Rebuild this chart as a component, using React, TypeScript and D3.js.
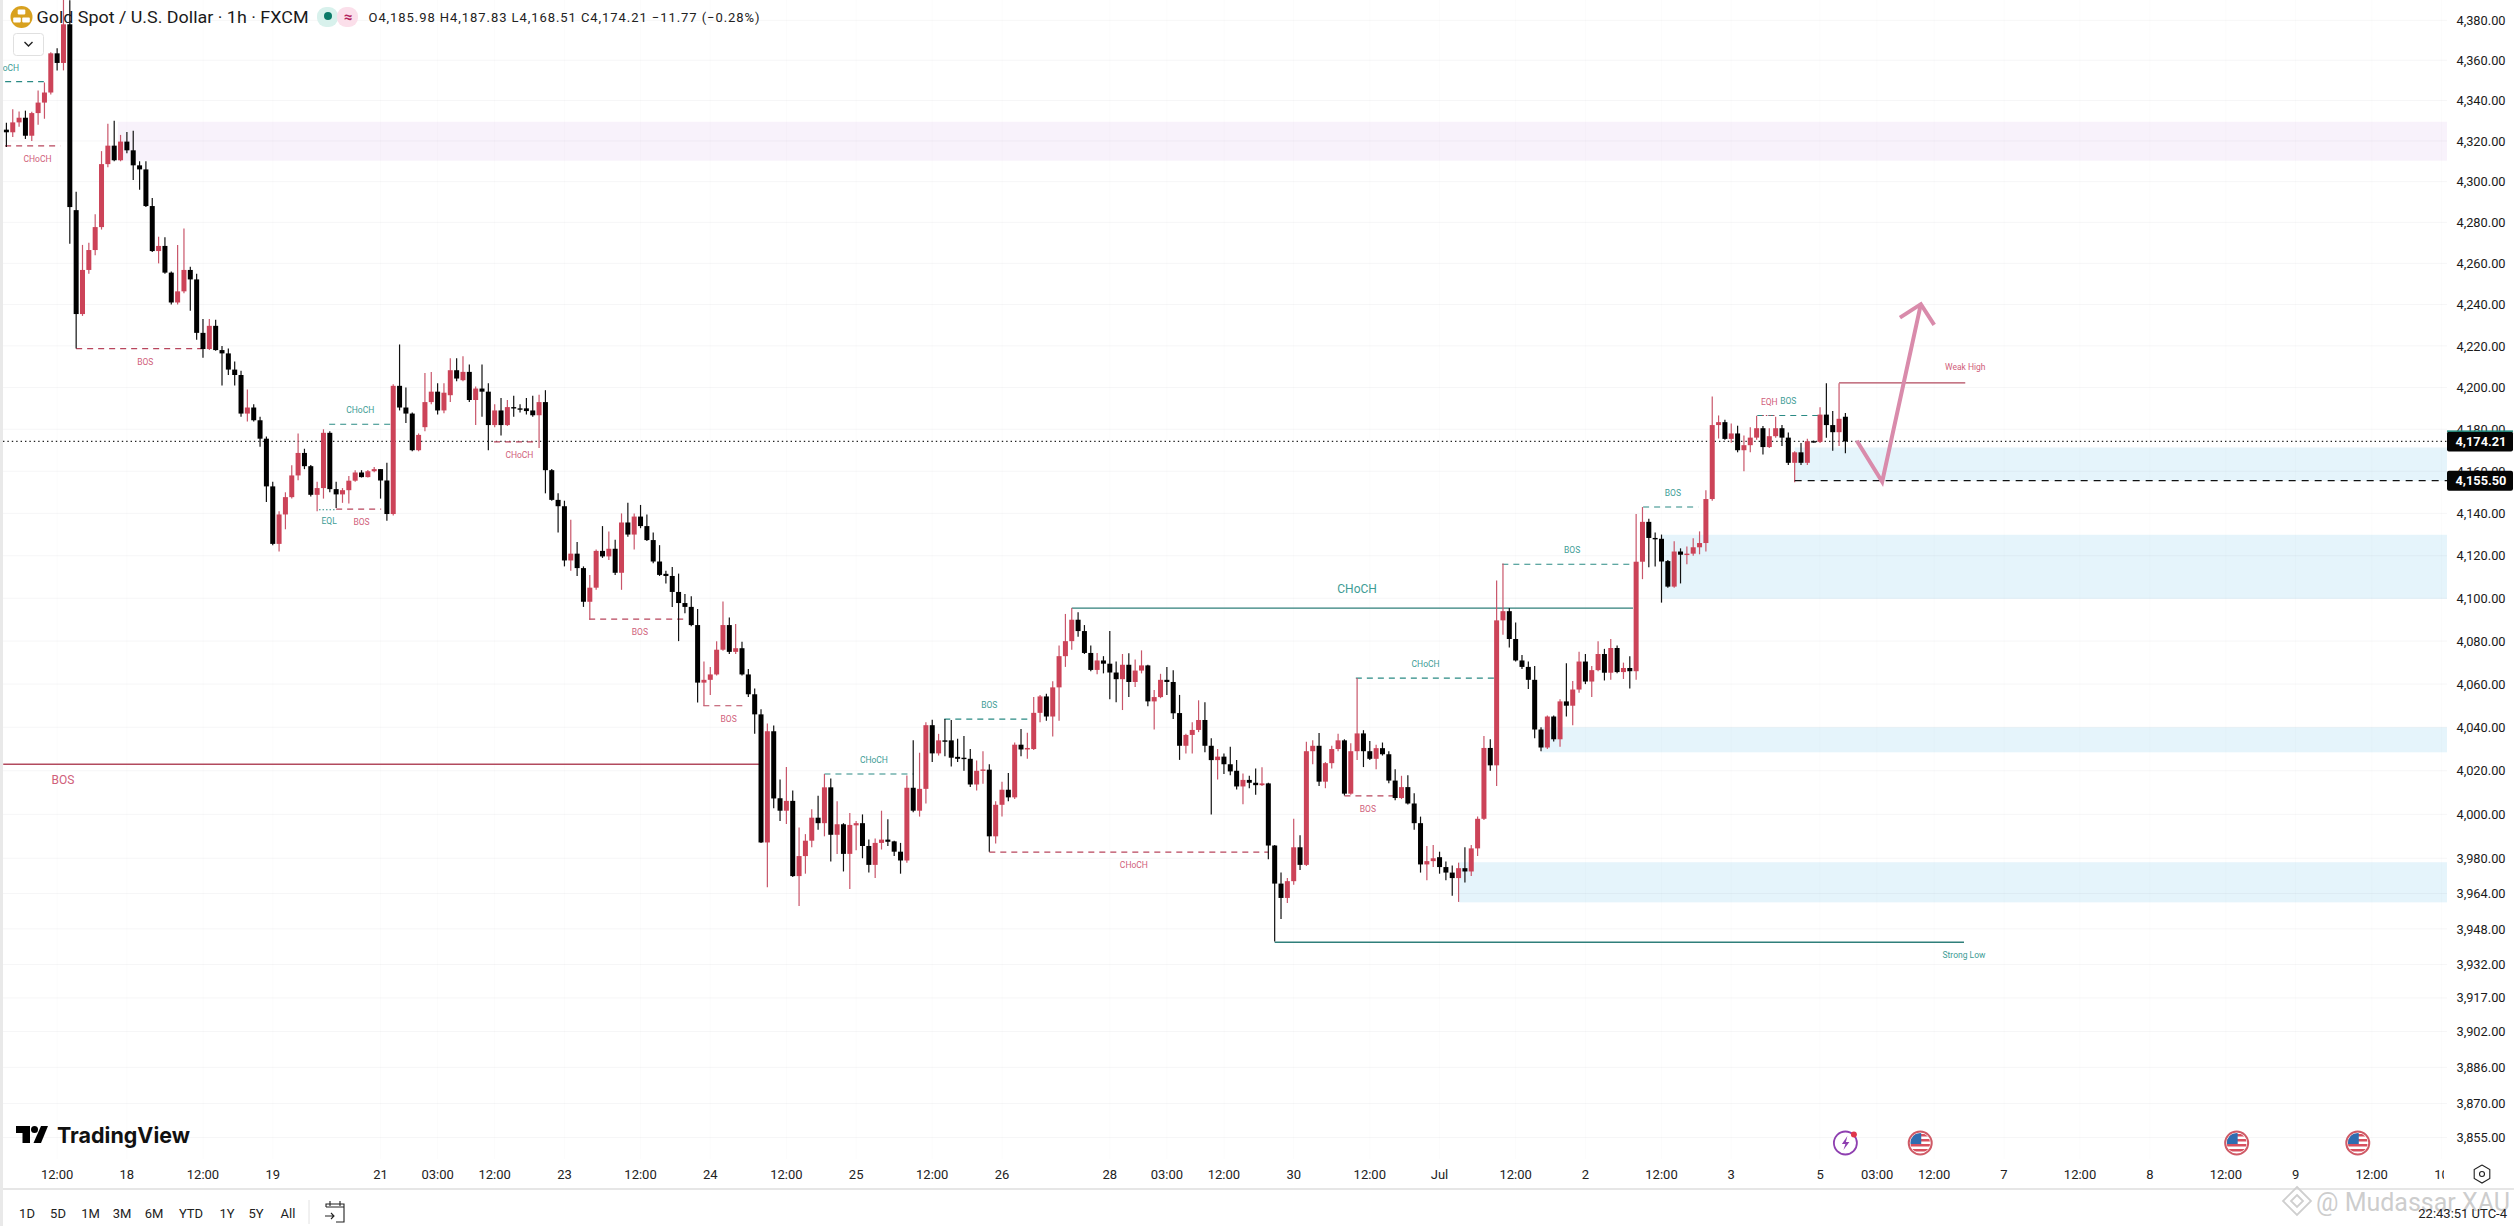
import { useEffect, useRef } from 'react';
import * as d3 from 'd3';

const WIDTH = 2514;
const HEIGHT = 1226;

// OHLC, one hourly bar per entry
const barOpen = [
  4325.6, 4324.3, 4329.2, 4331.5, 4322.6, 4333.8, 4339, 4344, 4363.5, 4358.7,
  4378, 4286, 4235.4, 4256.8, 4266.5, 4277.7, 4308.6, 4317.7, 4310.5, 4319.7,
  4315.4, 4308, 4306, 4288, 4266, 4268.5, 4255.5, 4241, 4246.4, 4256.8,
  4252.2, 4226.3, 4218.5, 4229.7, 4218, 4216.4, 4208.6, 4206, 4187.5, 4190.4,
  4184.3, 4175.5, 4152.8, 4125.6, 4139.5, 4147.7, 4158, 4168.7, 4162.4, 4148.8,
  4152, 4178.3, 4151.5, 4149, 4151, 4155.5, 4159.4, 4157.2, 4160, 4161,
  4155.6, 4139.7, 4200.8, 4190.4, 4187.5, 4170, 4181, 4193, 4198, 4189,
  4196.3, 4208.3, 4203.5, 4207.5, 4194, 4199.5, 4198, 4182, 4189, 4182,
  4190.6, 4190, 4190, 4189, 4186.7, 4193, 4160.5, 4146.4, 4143.4, 4117.8,
  4121, 4114.2, 4098.4, 4105, 4122.3, 4119.7, 4123.3, 4112, 4135.7, 4130,
  4138.5, 4134, 4127.4, 4117.3, 4111.5, 4110.5, 4103, 4097.8, 4096, 4087.5,
  4060.7, 4062, 4064.5, 4076, 4087.5, 4075, 4076.7, 4064.5, 4055.3, 4046,
  3987.2, 4038.2, 4007.4, 4001.7, 4006.2, 3971.9, 3981, 3988, 3998.5, 3996,
  4012.4, 3990.7, 3995.5, 3982, 3995, 3996, 3985.6, 3977, 3987, 3988.5,
  3987.7, 3983, 3979, 4012.2, 4001.7, 4011.7, 4041, 4028, 4034, 4034,
  4026.4, 4026, 4025.5, 4013.7, 4020, 4020.5, 3990, 4004.4, 4011.3, 4007.8,
  4032, 4029.8, 4030, 4046.7, 4054.3, 4045, 4058.5, 4073, 4080, 4090,
  4084.7, 4074.5, 4066.6, 4071, 4069.5, 4065.4, 4062.3, 4069, 4061, 4066.3,
  4068.7, 4052, 4054, 4062, 4061, 4046.6, 4031.5, 4036.5, 4038.8, 4043.4,
  4031.5, 4024.9, 4026.5, 4023, 4020, 4012.8, 4015.8, 4014.5, 4013.4, 4014.2,
  3985.8, 3968.5, 3962, 3969.6, 3985, 3977, 4029, 4031.5, 4015, 4023.5,
  4030, 4034, 4009.5, 4029, 4037.2, 4029, 4025.5, 4030.4, 4027.6, 4015.5,
  4007.5, 4012.5, 4005, 3996, 3977.2, 3978.7, 3980.5, 3976, 3973.5, 3971,
  3975.5, 3974, 3984.5, 3998, 4030.5, 4022.5, 4089.7, 4094, 4081, 4071,
  4068, 4062, 4039, 4030.7, 4045, 4034.5, 4052, 4050, 4057.5, 4070.5,
  4061.2, 4066.5, 4074, 4065.3, 4076.8, 4065.6, 4067.5, 4066, 4117.2, 4136,
  4128.4, 4128, 4117.5, 4105.5, 4122, 4120.5, 4121, 4124, 4126, 4146.8,
  4182, 4183.4, 4175.4, 4178, 4170, 4172.4, 4176, 4180.5, 4171.5, 4176.7,
  4180.5, 4176, 4164, 4169, 4164, 4174.3, 4174, 4187, 4182, 4178.6,
  4185.98,
];
const barClose = [
  4324.3, 4329.2, 4331.5, 4322.6, 4333.8, 4339, 4344, 4363.5, 4358.7, 4378,
  4287.5, 4235.4, 4256.8, 4266.5, 4277.7, 4308.6, 4317.7, 4310.5, 4319.7, 4315.4,
  4308, 4306, 4288, 4266, 4268.5, 4255.5, 4241, 4246.4, 4256.8, 4252.2,
  4226.3, 4218.5, 4229.7, 4218, 4216.4, 4208.6, 4206, 4187.5, 4190.4, 4184.3,
  4175.5, 4152.8, 4125.6, 4139.5, 4147.7, 4158, 4168.7, 4162.4, 4148.8, 4152,
  4178.3, 4151.5, 4149, 4151, 4155.5, 4159.4, 4157.2, 4160, 4161, 4155.6,
  4139.7, 4200.8, 4190.4, 4187.5, 4170, 4177.3, 4193, 4198, 4189, 4197.5,
  4208.3, 4204.3, 4207.5, 4194, 4199.5, 4198, 4182, 4189, 4182, 4190.6,
  4190, 4189.7, 4188.7, 4186.7, 4193, 4160.5, 4146.4, 4143.4, 4117.8, 4121,
  4114.2, 4098.4, 4105, 4122.3, 4119.7, 4123.3, 4112, 4135.7, 4130, 4138.5,
  4134, 4127.4, 4117.3, 4111, 4110.5, 4103, 4097.8, 4096, 4087.5, 4060.7,
  4062, 4064.5, 4076, 4087.5, 4075, 4076.7, 4064.5, 4055.3, 4046, 3987.2,
  4038.2, 4007.3, 4001.7, 4006.2, 3971.9, 3981, 3988, 3998.5, 3996, 4012.4,
  3990.7, 3995.5, 3982, 3995.2, 3996, 3985.6, 3977, 3987, 3988.5, 3987.5,
  3983, 3979, 4012.2, 4001.7, 4011.7, 4041, 4028, 4034, 4033.8, 4026,
  4025.5, 4025.7, 4013.7, 4020, 4020.6, 3990, 4004.4, 4011.3, 4007.8, 4032,
  4029.8, 4030.5, 4046.7, 4054.3, 4045, 4058.5, 4073, 4080, 4090, 4084.7,
  4074.5, 4066.6, 4071, 4069.5, 4065.4, 4062.3, 4069, 4061, 4066.3, 4068.7,
  4052, 4054, 4062, 4061, 4046.5, 4031.5, 4036.5, 4038.8, 4043.4, 4031.5,
  4024.9, 4026.5, 4023, 4019.7, 4012.8, 4015.8, 4014.5, 4013.4, 4014.2, 3985.8,
  3968.5, 3962, 3969.6, 3985, 3977, 4029, 4031.5, 4015, 4023.5, 4030,
  4034, 4009.5, 4029, 4037.2, 4029, 4025.5, 4030.4, 4027.6, 4015.5, 4007.5,
  4012.5, 4005, 3996, 3977.2, 3978.7, 3980, 3976, 3973.5, 3971, 3975.5,
  3974, 3984.5, 3998, 4030.5, 4022.5, 4089.7, 4094, 4081, 4071, 4068,
  4062, 4039, 4030.7, 4045, 4034.5, 4052, 4050, 4057.5, 4070.5, 4061.2,
  4066.5, 4074, 4065.3, 4076.8, 4065.6, 4067.5, 4066, 4117.2, 4136, 4128.4,
  4128.2, 4117.3, 4105.5, 4122, 4120.5, 4121, 4124, 4126, 4146.8, 4182,
  4183.4, 4175.4, 4178, 4170, 4172.4, 4176, 4180.5, 4171.5, 4176.7, 4180.5,
  4176, 4164, 4169, 4164, 4174.3, 4174, 4187, 4182, 4178.6, 4185,
  4174.21,
];
const barHigh = [
  4329, 4335.7, 4334.6, 4335, 4334.5, 4345, 4349, 4364, 4366, 4395,
  4390, 4295, 4269, 4270, 4284, 4315, 4328.5, 4330, 4323, 4324.5,
  4325, 4310, 4310, 4292, 4273, 4272.7, 4256, 4269, 4277, 4258.4,
  4255, 4233, 4233, 4232.6, 4220, 4218.7, 4212.5, 4208, 4199, 4192,
  4186, 4176.5, 4155, 4141, 4150, 4162.8, 4178, 4170.7, 4163, 4155,
  4180, 4179, 4155, 4152, 4157.7, 4160.5, 4160.5, 4160.6, 4162, 4161,
  4164, 4201.5, 4220.7, 4200, 4188, 4178, 4207, 4207.5, 4202, 4202,
  4214, 4214, 4215, 4211, 4200.5, 4211, 4202, 4192, 4195, 4194,
  4196, 4192, 4195, 4196, 4196.5, 4198.7, 4161, 4149.5, 4146, 4137,
  4126.5, 4115, 4111, 4123, 4134, 4131.5, 4127.5, 4140, 4145, 4140,
  4144, 4139.5, 4131, 4125, 4113, 4114.7, 4111.6, 4102, 4101, 4095,
  4070.5, 4068, 4080, 4098.5, 4091, 4088, 4079.7, 4067, 4058, 4048.4,
  4041.8, 4040.8, 4016, 4021.7, 4011, 3994, 3991, 4002.4, 4008.5, 4018.5,
  4016.5, 4006, 3996, 4000.6, 3997, 4000, 3988.5, 3989, 4001.7, 3997.8,
  3988, 3987, 4017.8, 4034, 4028.3, 4042.4, 4043.5, 4037, 4043.8, 4043.4,
  4034.7, 4036, 4030, 4024.7, 4029, 4023, 4006, 4015, 4019, 4033,
  4039.2, 4037.5, 4054, 4055, 4055.5, 4061.3, 4078, 4092.7, 4095.5, 4093.5,
  4087.5, 4078, 4074.5, 4073, 4084.7, 4070.5, 4074, 4074.4, 4071.4, 4075.7,
  4069, 4057.3, 4064.8, 4068, 4066.5, 4055, 4037, 4042.3, 4052.5, 4051.6,
  4035, 4030, 4028, 4031, 4025, 4018.7, 4017.7, 4021, 4021.6, 4014.5,
  3986, 3973.5, 3971, 3998, 3990.5, 4033.4, 4034, 4037.4, 4024, 4031.5,
  4037, 4034.5, 4032.7, 4062.8, 4038.7, 4033.7, 4032, 4033, 4029, 4020.7,
  4017.7, 4018, 4009.7, 3999, 3985.6, 3986, 3983, 3978.5, 3976.7, 3978,
  3985, 3986, 3999, 4036, 4034.5, 4108.4, 4116.4, 4095.5, 4088.7, 4073.5,
  4070.5, 4068.4, 4040, 4045.5, 4045.5, 4053, 4069.7, 4061.5, 4075, 4074,
  4068.4, 4080, 4076.4, 4081, 4078, 4070, 4073, 4139.7, 4143, 4137.5,
  4131, 4130, 4118, 4126.8, 4123.5, 4124.4, 4128.2, 4131.5, 4151, 4195.7,
  4186.6, 4184.5, 4182.7, 4181.7, 4177, 4181, 4186.5, 4181.6, 4180.5, 4186,
  4182, 4178.5, 4169.5, 4173.5, 4175.5, 4174.6, 4190.5, 4202, 4188.7, 4202,
  4187.83,
];
const barLow = [
  4317, 4322, 4327, 4321, 4320, 4328, 4331, 4343, 4355, 4355,
  4269.6, 4218.7, 4234.5, 4255, 4264, 4276.5, 4307, 4310, 4310, 4314,
  4300.8, 4296, 4287.5, 4265.5, 4260, 4255, 4240, 4240, 4245.5, 4237,
  4223, 4214.3, 4218, 4217.7, 4201, 4206, 4201, 4186, 4183.7, 4183.7,
  4171.6, 4145.4, 4125, 4122, 4132.5, 4147, 4155.7, 4161, 4148, 4141,
  4147, 4150, 4142.6, 4145, 4144.7, 4155, 4157, 4157, 4159.5, 4147,
  4136.5, 4139, 4189, 4183, 4169.5, 4169.5, 4179, 4192, 4187, 4187.6,
  4193, 4203, 4203, 4193, 4182, 4186, 4170, 4181, 4177, 4181.5,
  4186, 4188, 4187, 4186, 4171, 4149.5, 4146, 4131, 4115, 4113,
  4110.5, 4096, 4090, 4104, 4119, 4118, 4111, 4104, 4129, 4123,
  4133, 4127, 4116.5, 4110.5, 4107, 4096, 4080, 4093, 4087, 4051.5,
  4050, 4055, 4064, 4075.5, 4074, 4074, 4064, 4054, 4037, 3987,
  3966.8, 4002.8, 3997, 3995.6, 3971.5, 3958.4, 3973, 3985, 3993, 3990,
  3978.5, 3982, 3974, 3966, 3983.7, 3980, 3973.5, 3971, 3984, 3985.6,
  3981, 3973, 3978, 4001, 3999, 4005, 4024, 4027, 4026.7, 4022,
  4024, 4020, 4012.5, 4011, 4014, 3983, 3986.7, 3999, 4006, 4007,
  4026.7, 4025.5, 4029.5, 4042.3, 4043, 4035.8, 4043, 4068, 4076, 4082,
  4074, 4066, 4064.6, 4065, 4053, 4051.6, 4048, 4054, 4058.7, 4065,
  4049.7, 4039, 4053.5, 4055, 4043.8, 4025, 4028, 4028, 4037.8, 4028.5,
  4000, 4016, 4018.5, 4018, 4011.4, 4004.6, 4012, 4009, 4013, 3979.5,
  3942.3, 3952.5, 3959.7, 3968, 3974.7, 3976.5, 4023, 4013, 4012, 4021,
  4029, 4008.7, 4009, 4025, 4021.7, 4025, 4020.7, 4027, 4014.3, 4006.5,
  4007, 4004.5, 3993, 3973.5, 3970, 3976, 3973, 3970, 3963, 3960.2,
  3969, 3972, 3981, 3997.5, 4020, 4013, 4083, 4077, 4070.5, 4067,
  4057.7, 4035, 4029, 4030, 4033.5, 4031, 4045, 4041, 4056, 4060,
  4054, 4066, 4061.7, 4062, 4065, 4062.4, 4058, 4062, 4109, 4114.6,
  4115, 4098, 4105, 4105, 4107, 4116, 4120, 4120.7, 4122, 4146,
  4175.6, 4175, 4173.6, 4169, 4160, 4169, 4175, 4168, 4171, 4176,
  4172, 4163, 4154.8, 4163, 4163, 4173.7, 4173.5, 4176, 4169.7, 4172,
  4168.51,
];

const priceTicks = [
  4380, 4360, 4340, 4320, 4300, 4280, 4260, 4240, 4220, 4200, 4180, 4160, 4140, 4120,
  4100, 4080, 4060, 4040, 4020, 4000, 3980, 3964, 3948, 3932, 3917, 3902, 3886, 3870, 3855,
];
const lastPrice = 4174.21;
const markedPrice = 4155.5;

const timeLabels = [
  '12:00', '18', '12:00', '19', '21', '03:00', '12:00', '23', '12:00', '24', '12:00', '25',
  '12:00', '26', '28', '03:00', '12:00', '30', '12:00', 'Jul', '12:00', '2', '12:00', '3',
  '5', '03:00', '12:00', '7', '12:00', '8', '12:00', '9', '12:00', '10',
];
const timeBars = [
  8, 19, 31, 42, 59, 68, 77, 88, 100, 111, 123, 134,
  146, 157, 174, 183, 192, 203, 215, 226, 238, 249, 261, 272,
  286, 295, 304, 315, 327, 338, 350, 361, 373, 384,
];

// supply/demand zones, they all run out to the price scale
const zoneFrom = [17.6, 282, 261, 242, 229];
const zoneTop = [4329.5, 4171.3, 4129.9, 4040, 3978.2];
const zoneBottom = [4310.3, 4155.5, 4099.8, 4028.5, 3960];
const zoneKind = ['supply', 'demand', 'demand', 'demand', 'demand'];

// small dashed structure breaks
const breakFrom = [-0.2, -0.2, 11, 50.9, 52, 76.9, 91.9, 109.9, 129, 147.9, 155, 212.8, 211, 235.9, 258.1, 276.1];
const breakTo = [5.9, 8.5, 30.9, 60.7, 59.1, 83.8, 107.5, 116.8, 143.1, 161.6, 199, 234.8, 218.7, 256.4, 266.8, 285.7];
const breakPrice = [4349.4, 4317.6, 4218.7, 4182.4, 4142, 4174, 4090.3, 4050, 4018.5, 4043.8, 3982.8, 4062.8, 4008.5, 4116, 4143, 4186.6];
const breakDir = ['up', 'down', 'down', 'up', 'down', 'down', 'down', 'down', 'up', 'up', 'down', 'up', 'down', 'up', 'up', 'up'];
const breakLabel = ['CHoCH', 'CHoCH', 'BOS', 'CHoCH', 'BOS', 'CHoCH', 'BOS', 'BOS', 'CHoCH', 'BOS', 'CHoCH', 'CHoCH', 'BOS', 'BOS', 'BOS', 'BOS'];
const breakLabelBar = [-0.2, 4.9, 21.9, 55.8, 56, 80.9, 99.9, 113.9, 136.8, 155, 177.8, 223.8, 214.7, 246.9, 262.8, 281];

// equal highs / lows, dotted
const equalFrom = [49.3, 276.9];
const equalTo = [51.8, 278.9];
const equalPrice = [4141.7, 4186.6];
const equalDir = ['up', 'down'];
const equalLabel = ['EQL', 'EQH'];
const equalLabelBar = [50.9, 278];

// the heavier solid levels
const levelFrom = [-0.5, 168, 200, 289];
const levelTo = [118.7, 256.5, 308.7, 308.9];
const levelPrice = [4023, 4095.4, 3942, 4202.2];
const levelDir = ['down', 'up', 'up', 'down'];
const levelLabel = ['BOS', 'CHoCH', 'Strong Low', 'Weak High'];
const levelLabelBar = [8.9, 213, 308.7, 308.9];

// hand drawn projection
const arrowBars = [291.8, 295.8, 301.9];
const arrowPrices = [4174.5, 4155, 4240.2];
const arrowHeadBars = [298.6, 301.9, 304];
const arrowHeadPrices = [4233.7, 4240.2, 4230.2];

const flagBars = [301.8, 351.7, 370.8];
const boltBar = 290;

const rangeLabels = ['1D', '5D', '1M', '3M', '6M', 'YTD', '1Y', '5Y', 'All'];
const rangeCenters = [27, 58, 90.5, 122, 154, 191, 227, 256, 288];

const RED = '#cc4358';
const TEAL = '#2a8a84';
const SANS = 'Roboto, sans-serif';

export default function App() {
  const svgRef = useRef<SVGSVGElement>(null);

  useEffect(() => {
    if (!svgRef.current) return;
    const svg = d3.select(svgRef.current);
    svg.selectAll('*').remove();

    const plotLeft = 3;
    const plotRight = 2447;
    const plotBottom = 1189;

    const x = d3.scaleLinear().domain([0, 290]).range([6.4, 1845.4]);
    const y = d3.scaleLog().domain([4380, 3855]).range([20.3, 1137.5]);

    const defs = svg.append('defs');
    defs.append('clipPath').attr('id', 'plot-clip')
      .append('rect').attr('x', plotLeft).attr('y', 0)
      .attr('width', plotRight - plotLeft).attr('height', plotBottom);
    defs.append('clipPath').attr('id', 'time-clip')
      .append('rect').attr('x', 0).attr('y', plotBottom - 30)
      .attr('width', plotRight - 3).attr('height', 30);

    svg.append('rect').attr('width', WIDTH).attr('height', HEIGHT).attr('fill', '#fff');

    const plot = svg.append('g').attr('clip-path', 'url(#plot-clip)');

    // Zones first, grid shows through them
    plot.append('g').selectAll('rect')
      .data(zoneFrom)
      .join('rect')
      .attr('x', d => x(d))
      .attr('y', (_, i) => y(zoneTop[i]))
      .attr('width', d => plotRight - x(d))
      .attr('height', (_, i) => y(zoneBottom[i]) - y(zoneTop[i]))
      .attr('fill', (_, i) => (zoneKind[i] === 'supply' ? '#f8f2fb' : '#e5f4fb'));

    plot.append('g').selectAll('line')
      .data(priceTicks)
      .join('line')
      .attr('x1', plotLeft)
      .attr('x2', plotRight)
      .attr('y1', d => y(d))
      .attr('y2', d => y(d))
      .attr('stroke', '#556')
      .attr('stroke-opacity', 0.055);

    plot.append('g').selectAll('line')
      .data(timeBars)
      .join('line')
      .attr('x1', d => x(d))
      .attr('x2', d => x(d))
      .attr('y1', 0)
      .attr('y2', plotBottom - 30)
      .attr('stroke', '#556')
      .attr('stroke-opacity', 0.02);

    // Current price line
    plot.append('line')
      .attr('x1', plotLeft).attr('x2', plotRight)
      .attr('y1', y(lastPrice)).attr('y2', y(lastPrice))
      .attr('stroke', '#222').attr('stroke-width', 1.2).attr('stroke-dasharray', '1.4 3');

    // Structure levels
    const dirColor = (d: string) => (d === 'up' ? TEAL : '#b8455c');
    const labelColor = (d: string) => (d === 'up' ? '#3d9c95' : '#d0607a');

    plot.append('g').selectAll('line')
      .data(breakFrom)
      .join('line')
      .attr('x1', d => x(d))
      .attr('x2', (_, i) => x(breakTo[i]))
      .attr('y1', (_, i) => y(breakPrice[i]))
      .attr('y2', (_, i) => y(breakPrice[i]))
      .attr('stroke', (_, i) => dirColor(breakDir[i]))
      .attr('stroke-width', 1.1)
      .attr('stroke-dasharray', '6 5');

    plot.append('g').selectAll('text')
      .data(breakLabel)
      .join('text')
      .attr('x', (_, i) => x(breakLabelBar[i]))
      .attr('y', (_, i) => y(breakPrice[i]) + (breakDir[i] === 'up' ? -14 : 13))
      .attr('dy', '0.35em')
      .attr('text-anchor', 'middle')
      .attr('font-family', SANS)
      .attr('font-size', 8.5)
      .attr('fill', (_, i) => labelColor(breakDir[i]))
      .text(d => d);

    plot.append('g').selectAll('line')
      .data(equalFrom)
      .join('line')
      .attr('x1', d => x(d))
      .attr('x2', (_, i) => x(equalTo[i]))
      .attr('y1', (_, i) => y(equalPrice[i]))
      .attr('y2', (_, i) => y(equalPrice[i]))
      .attr('stroke', (_, i) => dirColor(equalDir[i]))
      .attr('stroke-width', 1.1)
      .attr('stroke-dasharray', '1.5 2');

    plot.append('g').selectAll('text')
      .data(equalLabel)
      .join('text')
      .attr('x', (_, i) => x(equalLabelBar[i]))
      .attr('y', (_, i) => y(equalPrice[i]) + (equalDir[i] === 'up' ? 11 : -13))
      .attr('dy', '0.35em')
      .attr('text-anchor', 'middle')
      .attr('font-family', SANS)
      .attr('font-size', 8.5)
      .attr('fill', (_, i) => labelColor(equalDir[i]))
      .text(d => d);

    plot.append('g').selectAll('line')
      .data(levelFrom)
      .join('line')
      .attr('x1', d => x(d))
      .attr('x2', (_, i) => x(levelTo[i]))
      .attr('y1', (_, i) => y(levelPrice[i]))
      .attr('y2', (_, i) => y(levelPrice[i]))
      .attr('stroke', (_, i) => (levelDir[i] === 'up' ? '#2f7f7a' : '#b24a5e'))
      .attr('stroke-width', 1.4);

    plot.append('g').selectAll('text')
      .data(levelLabel)
      .join('text')
      .attr('x', (_, i) => x(levelLabelBar[i]))
      .attr('y', (_, i) => y(levelPrice[i]) + [16, -19, 13, -16][i])
      .attr('dy', '0.35em')
      .attr('text-anchor', 'middle')
      .attr('font-family', SANS)
      .attr('font-size', (_, i) => (i < 2 ? 12 : 8.5))
      .attr('fill', (_, i) => labelColor(levelDir[i]))
      .text(d => d);

    // Candles
    const candles = plot.append('g').selectAll('g')
      .data(barOpen)
      .join('g');

    candles.append('line')
      .attr('x1', (_, i) => x(i))
      .attr('x2', (_, i) => x(i))
      .attr('y1', (_, i) => y(barHigh[i]))
      .attr('y2', (_, i) => y(barLow[i]))
      .attr('stroke', (d, i) => (barClose[i] >= d ? '#c9566a' : '#111'))
      .attr('stroke-width', 1.2);

    candles.append('rect')
      .attr('x', (_, i) => x(i) - 2.5)
      .attr('width', 5)
      .attr('y', (d, i) => y(Math.max(d, barClose[i])))
      .attr('height', (d, i) => Math.max(1.4, Math.abs(y(barClose[i]) - y(d))))
      .attr('fill', (d, i) => (barClose[i] >= d ? RED : '#000'));

    // Marked level sits on top of the candles
    plot.append('line')
      .attr('x1', x(282)).attr('x2', plotRight)
      .attr('y1', y(markedPrice)).attr('y2', y(markedPrice))
      .attr('stroke', '#111').attr('stroke-width', 1.3).attr('stroke-dasharray', '7 6');

    // Projection arrow
    const drawPolyline = (bars: number[], prices: number[]) => {
      const path = d3.line<number>()
        .x(d => x(d))
        .y((_, i) => y(prices[i]));
      plot.append('path')
        .attr('d', path(bars))
        .attr('fill', 'none')
        .attr('stroke', '#d98bab')
        .attr('stroke-width', 4);
    };
    drawPolyline(arrowBars, arrowPrices);
    drawPolyline(arrowHeadBars, arrowHeadPrices);

    // Price scale
    const axis = svg.append('g');
    axis.selectAll('text')
      .data(priceTicks)
      .join('text')
      .attr('x', 2481)
      .attr('y', d => y(d))
      .attr('dy', '0.36em')
      .attr('text-anchor', 'middle')
      .attr('font-family', SANS)
      .attr('font-size', 12.8)
      .attr('fill', '#1a1a1a')
      .text(d => d3.format(',.2f')(d));

    const priceTag = (price: number, teal: boolean) => {
      const g = axis.append('g');
      g.append('rect')
        .attr('x', plotRight)
        .attr('y', y(price) - 10)
        .attr('width', WIDTH - plotRight - 1)
        .attr('height', 20)
        .attr('rx', 2)
        .attr('fill', '#050505');
      if (teal) {
        g.append('rect')
          .attr('x', plotRight)
          .attr('y', y(price) - 11)
          .attr('width', WIDTH - plotRight - 1)
          .attr('height', 1.5)
          .attr('fill', '#1f8a7c');
      }
      g.append('text')
        .attr('x', 2481)
        .attr('y', y(price))
        .attr('dy', '0.36em')
        .attr('text-anchor', 'middle')
        .attr('font-family', SANS)
        .attr('font-size', 12.8)
        .attr('font-weight', 700)
        .attr('fill', '#fff')
        .text(d3.format(',.2f')(price));
    };
    priceTag(lastPrice, true);
    priceTag(markedPrice, false);

    // Time scale
    svg.append('g').attr('clip-path', 'url(#time-clip)')
      .selectAll('text')
      .data(timeLabels)
      .join('text')
      .attr('x', (_, i) => x(timeBars[i]))
      .attr('y', 1174)
      .attr('dy', '0.36em')
      .attr('text-anchor', 'middle')
      .attr('font-family', SANS)
      .attr('font-size', 13)
      .attr('fill', '#222')
      .text(d => d);

    // Chrome around the chart
    svg.append('rect').attr('x', 0).attr('y', 0).attr('width', 3).attr('height', HEIGHT).attr('fill', '#e9e9e9');
    svg.append('rect').attr('x', 3).attr('y', plotBottom - 1).attr('width', WIDTH).attr('height', 2).attr('fill', '#e6e6e6');

    // Header
    const header = svg.append('g');
    header.append('circle').attr('cx', 21.5).attr('cy', 17).attr('r', 11).attr('fill', '#d8a11f');
    [[21.5, 12], [17, 20], [26, 20]].forEach(([cx, cy]) => {
      header.append('rect')
        .attr('x', cx - 3.8).attr('y', cy - 2.4).attr('width', 7.6).attr('height', 4.8)
        .attr('fill', '#fff').attr('rx', 0.8);
    });
    header.append('text')
      .attr('x', 36.5).attr('y', 17).attr('dy', '0.36em')
      .attr('font-family', SANS).attr('font-size', 16).attr('fill', '#1a1a1a')
      .attr('textLength', 272).attr('lengthAdjust', 'spacingAndGlyphs')
      .text('Gold Spot / U.S. Dollar · 1h · FXCM');
    header.append('rect').attr('x', 317).attr('y', 7).attr('width', 21).attr('height', 20).attr('rx', 9).attr('fill', '#d8f1ec');
    header.append('rect').attr('x', 337).attr('y', 7).attr('width', 21).attr('height', 20).attr('rx', 9).attr('fill', '#fbdfea');
    header.append('circle').attr('cx', 328).attr('cy', 16).attr('r', 4).attr('fill', '#0b7a68');
    header.append('text')
      .attr('x', 348).attr('y', 17).attr('dy', '0.36em').attr('text-anchor', 'middle')
      .attr('font-family', SANS).attr('font-size', 15).attr('font-weight', 700).attr('fill', '#b3245d')
      .text('≈');
    header.append('text')
      .attr('x', 368.5).attr('y', 17).attr('dy', '0.36em')
      .attr('font-family', SANS).attr('font-size', 13).attr('fill', '#222')
      .attr('textLength', 391).attr('lengthAdjust', 'spacing')
      .text('O4,185.98  H4,187.83  L4,168.51  C4,174.21  −11.77 (−0.28%)');

    header.append('rect')
      .attr('x', 13.5).attr('y', 33.5).attr('width', 30).attr('height', 22).attr('rx', 3)
      .attr('fill', '#fff').attr('stroke', '#e0e0e0');
    header.append('path')
      .attr('d', 'M24.5 42 L28.5 46 L32.5 42')
      .attr('fill', 'none').attr('stroke', '#222').attr('stroke-width', 1.4);

    // TradingView mark
    const logo = svg.append('g').attr('transform', 'translate(16,1126)');
    logo.append('path').attr('d', 'M0 0 H14 V17 H6.5 V7 H0 Z').attr('fill', '#000');
    logo.append('circle').attr('cx', 18.5).attr('cy', 3.6).attr('r', 3.5).attr('fill', '#000');
    logo.append('path').attr('d', 'M25 0 H32 L25 17 H17.5 Z').attr('fill', '#000');
    svg.append('text')
      .attr('x', 57).attr('y', 1135).attr('dy', '0.36em')
      .attr('font-family', 'Inter, sans-serif').attr('font-size', 22).attr('font-weight', 700)
      .attr('fill', '#111').attr('textLength', 133).attr('lengthAdjust', 'spacingAndGlyphs')
      .text('TradingView');

    // Calendar events
    flagBars.forEach((bar, n) => {
      const g = svg.append('g').attr('transform', `translate(${x(bar)},1143)`);
      const id = `flag-clip-${n}`;
      g.append('clipPath').attr('id', id).append('circle').attr('r', 10);
      const inner = g.append('g').attr('clip-path', `url(#${id})`);
      inner.append('rect').attr('x', -10).attr('y', -10).attr('width', 20).attr('height', 20).attr('fill', '#fff');
      d3.range(0, 4).forEach(k => {
        inner.append('rect')
          .attr('x', -10).attr('y', -9 + k * 5).attr('width', 20).attr('height', 2.5).attr('fill', '#d8505f');
      });
      inner.append('rect').attr('x', -10).attr('y', -10).attr('width', 11).attr('height', 11).attr('fill', '#2f6db0');
      g.append('circle').attr('r', 11.5).attr('fill', 'none').attr('stroke', '#cf5a66').attr('stroke-width', 2);
    });
    const bolt = svg.append('g').attr('transform', `translate(${x(boltBar)},1143)`);
    bolt.append('circle').attr('r', 11.5).attr('fill', '#fff').attr('stroke', '#8e3fb0').attr('stroke-width', 1.8);
    bolt.append('path').attr('d', 'M2 -7 L-3.5 1 H0 L-2 7 L4 -1 H0.5 Z').attr('fill', '#8e3fb0');
    bolt.append('circle').attr('cx', 8.5).attr('cy', -8.5).attr('r', 3).attr('fill', '#e0364c');

    // Range bar
    svg.append('g').selectAll('text')
      .data(rangeLabels)
      .join('text')
      .attr('x', (_, i) => rangeCenters[i])
      .attr('y', 1213)
      .attr('dy', '0.36em')
      .attr('text-anchor', 'middle')
      .attr('font-family', SANS)
      .attr('font-size', 13)
      .attr('fill', '#222')
      .text(d => d);
    svg.append('line').attr('x1', 309).attr('x2', 309).attr('y1', 1200).attr('y2', 1224).attr('stroke', '#e2e2e2');
    const cal = svg.append('g').attr('fill', 'none').attr('stroke', '#222').attr('stroke-width', 1.1);
    cal.append('path').attr('d', 'M326 1207 V1204 H344 V1222 H336 M326 1207 H344 M330 1201 V1206 M340 1201 V1206');
    cal.append('path').attr('d', 'M325 1216 H334 M331 1213 L334 1216 L331 1219');

    // Settings hex
    svg.append('path')
      .attr('d', d3.line()(d3.range(0, 7).map(k => {
        const a = (k * Math.PI) / 3 - Math.PI / 2;
        return [2482 + 9 * Math.cos(a), 1174 + 9 * Math.sin(a)] as [number, number];
      })))
      .attr('fill', 'none').attr('stroke', '#222').attr('stroke-width', 1.1);
    svg.append('circle').attr('cx', 2482).attr('cy', 1174).attr('r', 2.5).attr('fill', 'none').attr('stroke', '#222').attr('stroke-width', 1.1);

    // Watermark and clock
    const mark = svg.append('g').attr('fill', 'none').attr('stroke', '#cfcfcf').attr('stroke-width', 1.8);
    mark.append('path').attr('d', 'M2297 1187 L2311 1201 L2297 1215 L2283 1201 Z');
    mark.append('path').attr('d', 'M2297 1195 L2303 1201 L2297 1207 L2291 1201 Z');
    svg.append('text')
      .attr('x', 2316).attr('y', 1202).attr('dy', '0.36em')
      .attr('font-family', SANS).attr('font-size', 25).attr('fill', '#c4c4c4').attr('fill-opacity', 0.85)
      .text('@ Mudassar XAU');
    svg.append('text')
      .attr('x', 2507).attr('y', 1213).attr('dy', '0.36em').attr('text-anchor', 'end')
      .attr('font-family', SANS).attr('font-size', 13).attr('fill', '#222')
      .text('22:43:51 UTC-4');
  }, []);

  return (
    <svg
      ref={svgRef}
      width={WIDTH}
      height={HEIGHT}
      style={{ position: 'fixed', left: 0, top: 0, display: 'block' }}
    />
  );
}
